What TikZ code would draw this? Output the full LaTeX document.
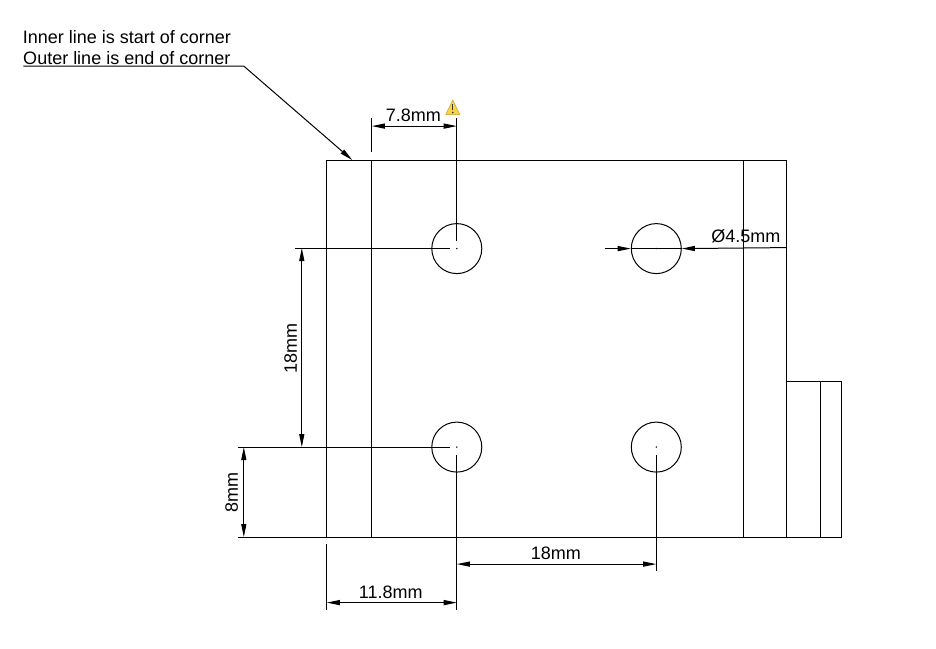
\documentclass[tikz,border=0pt]{standalone}
\usepackage{fontspec}
\setmainfont{Liberation Sans}
\usetikzlibrary{arrows.meta}
\definecolor{warnfill}{HTML}{F7D64F}
\definecolor{warnedge}{HTML}{D9B23A}
\tikzset{
  ln/.style={draw=black,line width=0.75pt,line cap=butt},
  dimline/.style={ln,{Triangle[length=9.8pt,width=3.8pt]}-{Triangle[length=9.8pt,width=3.8pt]}},
  tip/.style={ln,-{Triangle[length=9.8pt,width=3.8pt]}},
  hole/.style={circle,draw=black,line width=0.75pt,minimum size=37.5pt,inner sep=0pt},
  lbl/.style={inner sep=0pt,font=\fontsize{13.5}{16}\selectfont},
}
\begin{document}
\begin{tikzpicture}[x=0.75pt,y=-0.75pt]
\useasboundingbox (0,0) rectangle (936,649);
\begin{scope}[shift={(-0.2,0.1)}]
% named points
\coordinate (TL) at (327,160); \coordinate (TR) at (787,160);
\coordinate (BR) at (787,537); \coordinate (BL) at (327,537);
\coordinate (i1t) at (372,160); \coordinate (i1b) at (372,537);
\coordinate (i2t) at (744,160); \coordinate (i2b) at (744,537);
\coordinate (tabTL) at (787,381); \coordinate (tabTR) at (842,381);
\coordinate (tabBR) at (842,537); \coordinate (tabMt) at (821,381); \coordinate (tabMb) at (821,537);
\coordinate (baseL) at (238,537);
% holes
\node[hole] (h1) at (457,248.5) {};
\node[hole] (h2) at (656.5,248.5) {};
\node[hole] (h3) at (457,447) {};
\node[hole] (h4) at (656.5,447) {};
% body
\draw[ln] (BL) -- (TL) -- (TR) -- (BR);
\draw[ln] (i1t) -- (i1b);
\draw[ln] (i2t) -- (i2b);
\draw[ln] (BR) -- (tabTL) -- (tabTR) -- (tabBR);
\draw[ln] (tabMt) -- (tabMb);
\draw[ln] (baseL) -- (tabBR);
% centre marks
\fill (h1.center) circle (0.6pt); \fill (h2.center) circle (0.6pt);
\fill (h3.center) circle (0.6pt); \fill (h4.center) circle (0.6pt);
% 7.8mm
\coordinate (e1a) at (372,118); \coordinate (e1b) at (372,152);
\coordinate (e2a) at (457,118); \coordinate (e2b) at (457,241);
\coordinate (d1a) at (372,126); \coordinate (d1b) at (457,126);
\draw[ln] (e1a) -- (e1b);
\draw[ln] (e2a) -- (e2b);
\draw[dimline] (d1a) -- (d1b);
\node[lbl] (t78) at (413.5,115) {7.8mm};
% warning icon
\coordinate (w1) at (453,100); \coordinate (w2) at (460,114.5); \coordinate (w3) at (446,114.5);
\filldraw[draw=warnedge,fill=warnfill,line width=0.6pt,line join=round] (w1) -- (w2) -- (w3) -- cycle;
\draw[black!80,line width=0.9pt] (453,104) -- (453,110);
\fill[black!80] (453,112.3) circle (0.7pt);
% 18mm vertical
\coordinate (e3a) at (295,248); \coordinate (e3b) at (450,248);
\coordinate (e4a) at (238,447); \coordinate (e4b) at (450,447);
\coordinate (d2a) at (302,248); \coordinate (d2b) at (302,447);
\draw[ln] (e3a) -- (e3b);
\draw[ln] (e4a) -- (e4b);
\draw[dimline] (d2a) -- (d2b);
\node[lbl,rotate=90] (tv18) at (291,348) {18mm};
% 8mm
\coordinate (d3a) at (244,447); \coordinate (d3b) at (244,537);
\draw[dimline] (d3a) -- (d3b);
\node[lbl,rotate=90] (t8) at (232,492) {8mm};
% 11.8mm
\coordinate (e5a) at (327,544); \coordinate (e5b) at (327,610);
\coordinate (e6a) at (457,455); \coordinate (e6b) at (457,610);
\coordinate (d4a) at (327,602.5); \coordinate (d4b) at (457,602.5);
\draw[ln] (e5a) -- (e5b);
\draw[ln] (e6a) -- (e6b);
\draw[dimline] (d4a) -- (d4b);
\node[lbl] (t118) at (391,592) {11.8mm};
% 18mm horizontal
\coordinate (e7a) at (656.5,455); \coordinate (e7b) at (656.5,571);
\coordinate (d5a) at (457,564); \coordinate (d5b) at (656.5,564);
\draw[ln] (e7a) -- (e7b);
\draw[dimline] (d5a) -- (d5b);
\node[lbl] (th18) at (556,553) {18mm};
% diameter
\coordinate (p1) at (605,248.5); \coordinate (p2) at (786,247.5);
\draw[tip] (p1) -- (h2.west);
\draw[tip] (p2) -- (h2.east);
\draw[ln] (h2.west) -- (h2.east);
\node[lbl] (tdia) at (746,236) {Ø4.5mm};
% leader
\node[lbl] (note1) at (127,37) {Inner line is start of corner};
\node[lbl] (note2) at (127,58) {Outer line is end of corner};
\coordinate (u1) at (23.5,66); \coordinate (knee) at (244,66); \coordinate (ptip) at (352.5,160);
\draw[tip] (u1) -- (knee) -- (ptip);
\end{scope}
\end{tikzpicture}
\end{document}
